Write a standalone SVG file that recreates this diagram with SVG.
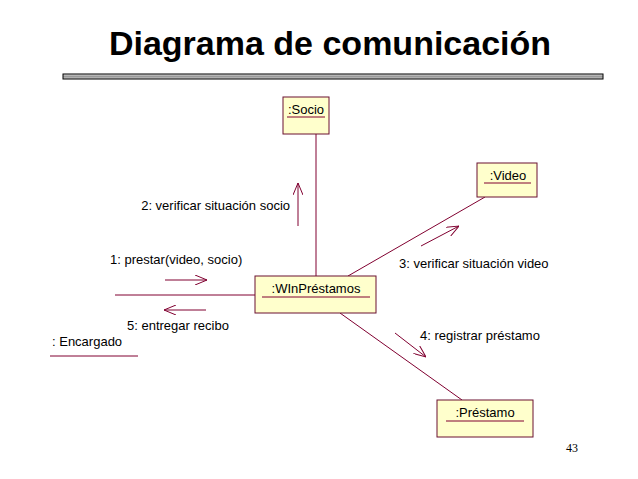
<svg xmlns="http://www.w3.org/2000/svg" width="638" height="479" viewBox="0 0 638 479">
<defs>
<linearGradient id="bar" x1="0" y1="0" x2="0" y2="1"><stop offset="0" stop-color="#e0e0e0"/><stop offset="0.5" stop-color="#9a9a9a"/><stop offset="1" stop-color="#d0d0d0"/></linearGradient>
<marker id="ah" viewBox="0 0 12 10" refX="12" refY="5" markerWidth="12" markerHeight="10" markerUnits="userSpaceOnUse" orient="auto"><path d="M0,0 L12,5 L0,10" fill="none" stroke="#800030" stroke-width="1"/></marker>
</defs>
<style>
.box{fill:#ffffcc;stroke:#6b1030;stroke-width:1}
.ln{stroke:#800030;stroke-width:1;fill:none}
.t{font-family:"Liberation Sans",Arial,sans-serif;font-size:13px;fill:#000}
</style>
<rect width="638" height="479" fill="#fff"/>
<text x="330" y="55" text-anchor="middle" font-family="Liberation Sans,Arial,sans-serif" font-weight="bold" font-size="34" fill="#000">Diagrama de comunicación</text>
<rect x="63" y="74" width="540" height="5" fill="url(#bar)" stroke="#000" stroke-width="1"/>
<g id="connectors">
<line class="ln" x1="316" y1="134" x2="316" y2="276"/>
<line class="ln" x1="348" y1="276" x2="485" y2="197"/>
<line class="ln" x1="340" y1="313" x2="462" y2="400"/>
<line class="ln" x1="115" y1="295" x2="255" y2="295"/>
<line class="ln" x1="165" y1="280" x2="207" y2="280" marker-end="url(#ah)"/>
<line class="ln" x1="206" y1="310" x2="164" y2="310" marker-end="url(#ah)"/>
<line class="ln" x1="298" y1="226" x2="298" y2="183" marker-end="url(#ah)"/>
<line class="ln" x1="421" y1="246" x2="459" y2="226" marker-end="url(#ah)"/>
<line class="ln" x1="395" y1="333" x2="426" y2="357" marker-end="url(#ah)"/>
<text class="t" x="290" y="210" text-anchor="end">2: verificar situación socio</text>
<text class="t" x="110" y="264">1: prestar(video, socio)</text>
<text class="t" x="127" y="330">5: entregar recibo</text>
<text class="t" x="399" y="268">3: verificar situación video</text>
<text class="t" x="420" y="340">4: registrar préstamo</text>
</g>
<g id="encargado">
<text class="t" x="52" y="346">: Encargado</text>
<line class="ln" x1="50" y1="356" x2="138" y2="356"/>
</g>
<g id="socio"><rect class="box" x="283" y="97" width="46" height="37"/><text class="t" x="306" y="114" text-anchor="middle">:Socio</text><line class="ln" x1="287" y1="117" x2="325" y2="117"/></g>
<g id="video"><rect class="box" x="477" y="163" width="60" height="34"/><text class="t" x="508" y="180" text-anchor="middle">:Video</text><line class="ln" x1="484" y1="183" x2="531" y2="183"/></g>
<g id="win"><rect class="box" x="255" y="276" width="121" height="37"/><text class="t" x="316" y="293" text-anchor="middle">:WInPréstamos</text><line class="ln" x1="262" y1="297" x2="370" y2="297"/></g>
<g id="prestamo"><rect class="box" x="437" y="400" width="96" height="37"/><text class="t" x="485" y="417" text-anchor="middle">:Préstamo</text><line class="ln" x1="446" y1="421" x2="524" y2="421"/></g>
<text x="578" y="452" text-anchor="end" font-family="Liberation Serif,serif" font-size="12" fill="#000">43</text>
</svg>
